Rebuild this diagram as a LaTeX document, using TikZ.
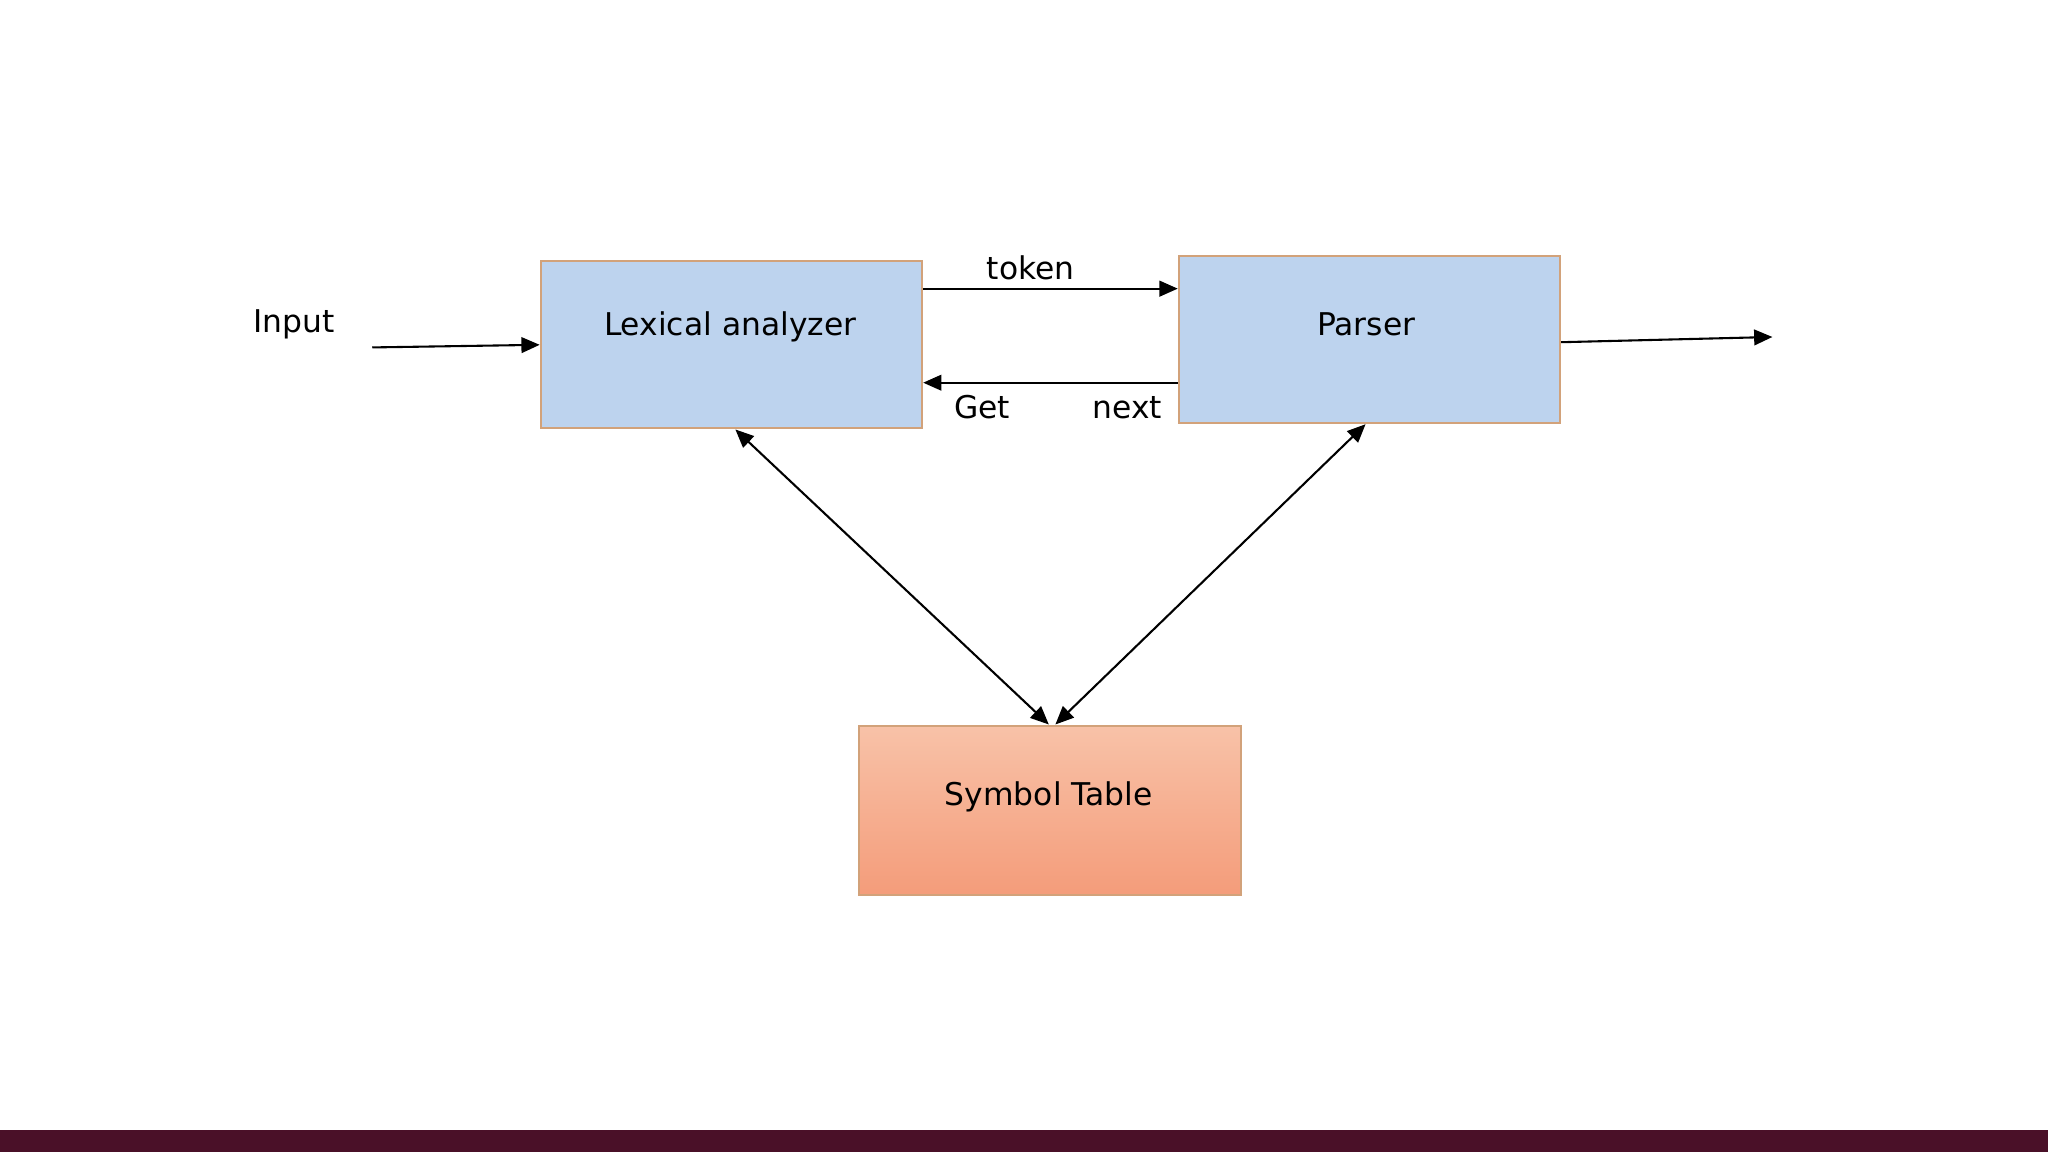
\documentclass[tikz,border=0pt]{standalone}
\usepackage{fontspec}
\setmainfont{DejaVu Sans}
\usetikzlibrary{arrows.meta,calc}
\definecolor{boxblue}{HTML}{BDD3EE}
\definecolor{boxedge}{HTML}{D2A27A}
\definecolor{stop}{HTML}{F8C2A8}
\definecolor{sbot}{HTML}{F49C7A}
\definecolor{bar}{HTML}{4A1028}
\begin{document}
\begin{tikzpicture}[x=0.5pt,y=-0.5pt,
  blk/.style={draw=boxedge,line width=0.8pt,minimum width=146pt,minimum height=64pt,inner sep=0pt,font=\fontsize{12}{14}\selectfont},
  lbl/.style={font=\fontsize{12}{14}\selectfont,inner sep=0pt},
  arr/.style={-{Triangle[length=7pt,width=6pt]},line width=0.8pt},
  darr/.style={{Triangle[length=7pt,width=6pt]}-{Triangle[length=7pt,width=6pt]},line width=0.8pt}]
\useasboundingbox (0,0) rectangle (1568,882);
\fill[bar] (0,865) rectangle (1568,882);
\node[blk,fill=boxblue] (lex) at (560,264) {};
\node[lbl] (lext) at (559,250) {Lexical analyzer};
\node[blk,fill=boxblue] (par) at (1048.5,260) {};
\node[lbl] (part) at (1046,248) {Parser};
\node[blk,top color=stop,bottom color=sbot,minimum height=65pt] (sym) at (804,620.5) {};
\node[lbl] (symt) at (803,610) {Symbol Table};
\node[lbl] (inp) at (225,248) {Input};
\node[lbl] (tok) at (789,205) {token};
\node[lbl] (get) at (752,312) {Get};
\node[lbl] (nxt) at (863,312) {next};
\coordinate (in0) at (285,266);
\coordinate (out1) at (1357,258);
\draw[arr] (in0) -- (lex.west |- 0,264);
\draw[arr] (lex.east |- 0,221) -- (par.west |- 0,221);
\draw[arr] (par.west |- 0,293) -- (lex.east |- 0,293);
\draw[arr] (par.east |- 0,262) -- (out1);
\draw[darr] ($(lex.south)+(3,0)$) -- ($(sym.north)+(-1,0)$);
\draw[darr] ($(par.south)+(-3,0)$) -- ($(sym.north)+(4,0)$);
\end{tikzpicture}
\end{document}
